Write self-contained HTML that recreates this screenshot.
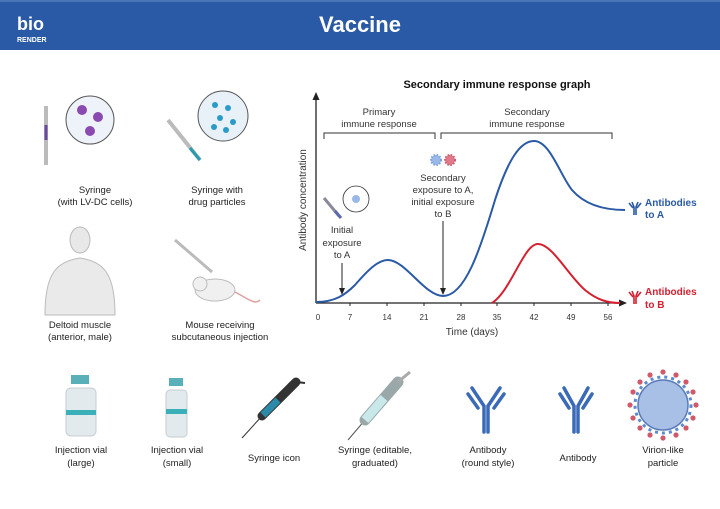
<!DOCTYPE html>
<html><head><meta charset="utf-8"><style>
body{margin:0;width:720px;height:504px;background:#fff;overflow:hidden;font-family:"Liberation Sans",sans-serif}
</style></head><body>
<svg width="720" height="504" xmlns="http://www.w3.org/2000/svg" font-family="Liberation Sans, sans-serif">
<rect x="0" y="0" width="720" height="50" fill="#2a5aa5"/>
<rect x="0" y="0" width="720" height="2" fill="#4a76b8"/>
<text x="17" y="30" fill="#fff" font-size="18" font-weight="bold">bio</text>
<text x="17" y="42" fill="#fff" font-size="7" font-weight="bold">RENDER</text>
<text x="360" y="32" fill="#fff" font-size="22" font-weight="bold" text-anchor="middle">Vaccine</text>

<!-- chart -->
<text x="497" y="88" font-size="11" font-weight="bold" text-anchor="middle" fill="#111">Secondary immune response graph</text>
<line x1="316" y1="303" x2="316" y2="97" stroke="#222" stroke-width="1.3"/>
<polygon points="316,92 312.5,100 319.5,100" fill="#222"/>
<line x1="316" y1="303" x2="622" y2="303" stroke="#222" stroke-width="1.3"/>
<polygon points="627,303 619,299.5 619,306.5" fill="#222"/>
<g font-size="8" fill="#333" text-anchor="middle">
<text x="318" y="320">0</text><text x="350" y="320">7</text><text x="387" y="320">14</text><text x="424" y="320">21</text><text x="461" y="320">28</text><text x="497" y="320">35</text><text x="534" y="320">42</text><text x="571" y="320">49</text><text x="608" y="320">56</text>
</g>
<g stroke="#222" stroke-width="1">
<line x1="350" y1="303" x2="350" y2="306"/><line x1="387" y1="303" x2="387" y2="306"/><line x1="424" y1="303" x2="424" y2="306"/><line x1="461" y1="303" x2="461" y2="306"/><line x1="497" y1="303" x2="497" y2="306"/><line x1="534" y1="303" x2="534" y2="306"/><line x1="571" y1="303" x2="571" y2="306"/><line x1="608" y1="303" x2="608" y2="306"/>
</g>
<text x="472" y="335" font-size="10" fill="#333" text-anchor="middle">Time (days)</text>
<text transform="translate(306,200) rotate(-90)" font-size="10" fill="#333" text-anchor="middle">Antibody concentration</text>
<g font-size="9.5" fill="#333" text-anchor="middle">
<text x="379" y="115">Primary</text><text x="379" y="127">immune response</text>
<text x="527" y="115">Secondary</text><text x="527" y="127">immune response</text>
<text x="443" y="181">Secondary</text><text x="443" y="193">exposure to A,</text><text x="443" y="205">initial exposure</text><text x="443" y="217">to B</text>
<text x="342" y="233">Initial</text><text x="342" y="246">exposure</text><text x="342" y="258">to A</text>
</g>
<path d="M324,139 V133 H435 V139 M441,139 V133 H612 V139" fill="none" stroke="#333" stroke-width="1"/>
<line x1="342" y1="263" x2="342" y2="290" stroke="#222"/><polygon points="342,295 339,288 345,288" fill="#222"/>
<line x1="443" y1="221" x2="443" y2="290" stroke="#222"/><polygon points="443,295 440,288 446,288" fill="#222"/>
<circle cx="436" cy="160" r="5" fill="#9ab8e8" stroke="#7aa0dd" stroke-dasharray="1.5 1.5" stroke-width="2"/>
<circle cx="450" cy="160" r="5" fill="#e07a8a" stroke="#d05a6a" stroke-dasharray="1.5 1.5" stroke-width="2"/>
<circle cx="356" cy="199" r="13" fill="#fff" stroke="#333" stroke-width="0.8"/>
<circle cx="356" cy="199" r="4" fill="#9ab8e8"/>
<line x1="324" y1="198" x2="339" y2="216" stroke="#8a8a9a" stroke-width="3"/>
<line x1="335" y1="211" x2="341" y2="218" stroke="#5a6ab0" stroke-width="3"/>
<path d="M316,302 C335,302 345,295 355,285 C368,270 378,260 388,260 C405,260 425,296 443,296 C465,296 480,250 495,200 C508,160 520,141 534,141 C550,141 560,175 572,190 C585,205 605,210 625,210" fill="none" stroke="#2a5aa5" stroke-width="2"/>
<path d="M492,303 C505,295 515,270 525,255 C530,247 534,244 538,244 C552,244 568,275 585,290 C597,300 608,303 620,303" fill="none" stroke="#d42030" stroke-width="2"/>
<g stroke="#2a5aa5" stroke-width="1.6" fill="none"><path d="M632,202 L634,207 L634,215 M638,202 L636,207 L636,215 M629,203 L633,208 M641,203 L637,208"/></g>
<g stroke="#d42030" stroke-width="1.6" fill="none"><path d="M632,291 L634,296 L634,304 M638,291 L636,296 L636,304 M629,292 L633,297 M641,292 L637,297"/></g>
<g font-size="10" font-weight="bold" text-anchor="start">
<text x="645" y="206" fill="#2a5aa5">Antibodies</text><text x="645" y="218" fill="#2a5aa5">to A</text>
<text x="645" y="295" fill="#d42030">Antibodies</text><text x="645" y="308" fill="#d42030">to B</text>
</g>

<!-- left illustrations -->
<line x1="46" y1="106" x2="46" y2="165" stroke="#bbb" stroke-width="4"/>
<line x1="46" y1="125" x2="46" y2="140" stroke="#6a4aa0" stroke-width="3"/>
<circle cx="90" cy="120" r="24" fill="#eef3fa" stroke="#555" stroke-width="1"/>
<circle cx="82" cy="110" r="5" fill="#8a4ab0"/><circle cx="98" cy="117" r="5" fill="#8a4ab0"/><circle cx="90" cy="131" r="5" fill="#8a4ab0"/>
<line x1="168" y1="120" x2="200" y2="160" stroke="#bbb" stroke-width="4"/>
<line x1="190" y1="148" x2="200" y2="160" stroke="#2a9ab0" stroke-width="3"/>
<circle cx="223" cy="116" r="25" fill="#e8f1f8" stroke="#555" stroke-width="1"/>
<g fill="#2a9ac8"><circle cx="215" cy="105" r="3"/><circle cx="228" cy="108" r="3"/><circle cx="220" cy="118" r="3"/><circle cx="233" cy="122" r="3"/><circle cx="214" cy="127" r="3"/><circle cx="226" cy="130" r="3"/></g>
<g font-size="9.5" fill="#222" text-anchor="middle">
<text x="95" y="193">Syringe</text><text x="95" y="205">(with LV-DC cells)</text>
<text x="217" y="193">Syringe with</text><text x="217" y="205">drug particles</text>
<text x="80" y="328">Deltoid muscle</text><text x="80" y="340">(anterior, male)</text>
<text x="220" y="328">Mouse receiving</text><text x="220" y="340">subcutaneous injection</text>
</g>
<ellipse cx="80" cy="240" rx="10" ry="13" fill="#e8e8e8" stroke="#bbb"/>
<path d="M45,315 C45,275 55,262 80,258 C105,262 115,275 115,315 Z" fill="#eaeaea" stroke="#bbb"/>
<ellipse cx="215" cy="290" rx="20" ry="11" fill="#f0f0f0" stroke="#bbb"/>
<circle cx="200" cy="284" r="7" fill="#f0f0f0" stroke="#bbb"/>
<path d="M235,292 C250,300 255,305 260,300" fill="none" stroke="#e0a0a0" stroke-width="1.5"/>
<line x1="175" y1="240" x2="212" y2="272" stroke="#bbb" stroke-width="3"/>

<!-- bottom row -->
<rect x="71" y="375" width="18" height="9" fill="#5ab0b8"/>
<rect x="66" y="388" width="30" height="48" rx="5" fill="#e3eaee" stroke="#c5ced4"/>
<rect x="66" y="410" width="30" height="5" fill="#3ab0b8"/>
<rect x="169" y="378" width="14" height="8" fill="#5ab0b8"/>
<rect x="166" y="390" width="21" height="47" rx="4" fill="#e3eaee" stroke="#c5ced4"/>
<rect x="166" y="409" width="21" height="5" fill="#3ab0b8"/>
<line x1="242" y1="438" x2="262" y2="416" stroke="#333" stroke-width="1"/>
<line x1="262" y1="416" x2="296" y2="382" stroke="#333" stroke-width="9" stroke-linecap="round"/>
<line x1="263" y1="415" x2="278" y2="400" stroke="#2a8aa8" stroke-width="7"/>
<line x1="296" y1="382" x2="305" y2="383" stroke="#333" stroke-width="2"/>
<line x1="348" y1="440" x2="365" y2="420" stroke="#555" stroke-width="1"/>
<line x1="365" y1="420" x2="398" y2="382" stroke="#9aa8aa" stroke-width="11" stroke-linecap="round"/>
<line x1="365" y1="420" x2="384" y2="398" stroke="#c8e8ea" stroke-width="9"/>
<line x1="398" y1="382" x2="410" y2="372" stroke="#aaa" stroke-width="3"/>
<g stroke="#3a6ab8" stroke-width="3.5" fill="none" stroke-linecap="round">
<path d="M484,406 V432 M488,406 V432 M484,406 L472,388 M488,406 L500,388 M478,408 L468,394 M494,408 L504,394"/>
<path d="M574,406 V432 M578,406 V432 M574,406 L564,388 M578,406 L588,388 M569,408 L560,394 M583,408 L592,394"/>
</g>
<g fill="#d05a6a">
<circle cx="663" cy="372" r="2.6"/><circle cx="663" cy="438" r="2.6"/><circle cx="630" cy="405" r="2.6"/><circle cx="696" cy="405" r="2.6"/>
<circle cx="686" cy="382" r="2.6"/><circle cx="640" cy="382" r="2.6"/><circle cx="686" cy="428" r="2.6"/><circle cx="640" cy="428" r="2.6"/>
<circle cx="676" cy="375" r="2.6"/><circle cx="650" cy="375" r="2.6"/><circle cx="676" cy="435" r="2.6"/><circle cx="650" cy="435" r="2.6"/>
<circle cx="633" cy="392" r="2.6"/><circle cx="693" cy="392" r="2.6"/><circle cx="633" cy="418" r="2.6"/><circle cx="693" cy="418" r="2.6"/>
</g>
<circle cx="663" cy="405" r="28" fill="none" stroke="#5a8ad0" stroke-width="3" stroke-dasharray="3 4"/>
<circle cx="663" cy="405" r="25" fill="#a8c0e6" stroke="#5a7ab8" stroke-width="1.5"/>
<g font-size="9.5" fill="#222" text-anchor="middle">
<text x="81" y="453">Injection vial</text><text x="81" y="466">(large)</text>
<text x="177" y="453">Injection vial</text><text x="177" y="466">(small)</text>
<text x="274" y="461">Syringe icon</text>
<text x="375" y="453">Syringe (editable,</text><text x="375" y="466">graduated)</text>
<text x="488" y="453">Antibody</text><text x="488" y="466">(round style)</text>
<text x="578" y="461">Antibody</text>
<text x="663" y="453">Virion-like</text><text x="663" y="466">particle</text>
</g>
</svg>
</body></html>
